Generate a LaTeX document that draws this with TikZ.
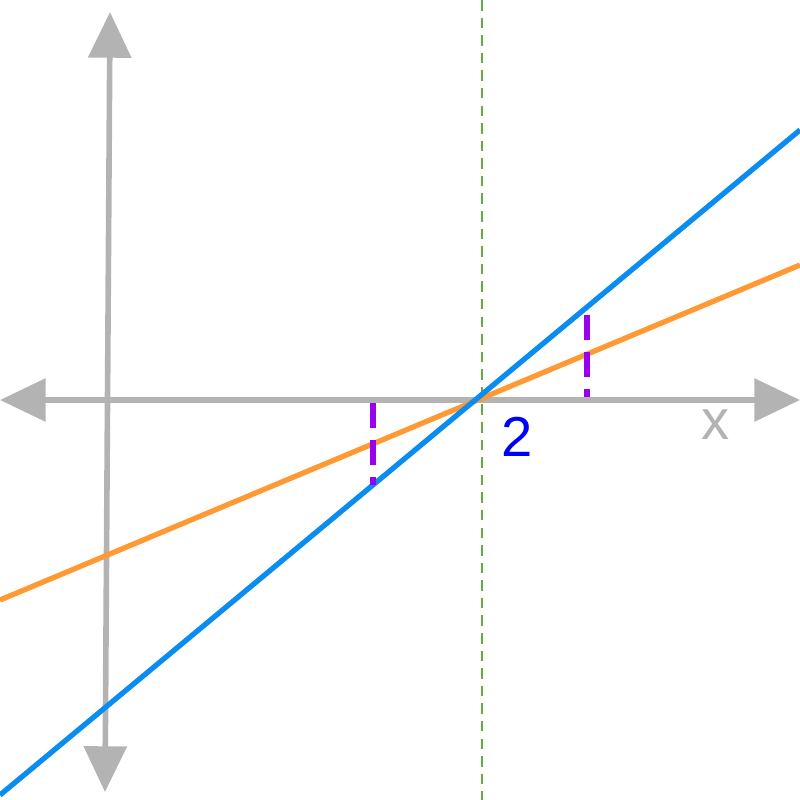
\documentclass[tikz,border=0pt]{standalone}
\usepackage{fontspec}
\setmainfont{Liberation Sans}
\usetikzlibrary{arrows.meta}
\definecolor{axisGray}{HTML}{B3B3B3}
\definecolor{lineBlue}{HTML}{0A8CF0}
\definecolor{lineOrange}{HTML}{FF9933}
\definecolor{gapPurple}{HTML}{9900EE}
\definecolor{guideGreen}{HTML}{66AA44}
\tikzset{
    Axis/.style = {
        line width=1.6pt, color=axisGray,
        {Triangle[length=13pt,width=12pt]}-{Triangle[length=13pt,width=12pt]}
    },
    Graph/.style = {line width=1.5pt, color=#1},
    Gap/.style = {line width=1.5pt, color=gapPurple, dash pattern=on 7pt off 3.5pt},
    Guide/.style = {line width=0.8pt, color=guideGreen, dash pattern=on 3pt off 2pt}
}
\begin{document}
\begin{tikzpicture}[x=0.01cm, y=-0.01cm]
    \useasboundingbox (0,0) rectangle (800,800);
    % axes
    \coordinate (XL) at (0,400);
    \coordinate (XR) at (800,400);
    \coordinate (YT) at (110,12);
    \coordinate (YB) at (105,792);
    \draw [Axis] (XL) -- (XR);
    \draw [Axis] (YB) -- (YT);
    % guide
    \coordinate (GT) at (482,0);
    \coordinate (GB) at (482,800);
    \draw [Guide] (GT) -- (GB);
    % lines
    \coordinate (B1) at (0,795);
    \coordinate (B2) at (800,130);
    \coordinate (O1) at (0,600);
    \coordinate (O2) at (800,265);
    \draw [Graph=lineOrange] (O1) -- (O2);
    \draw [Graph=lineBlue] (B1) -- (B2);
    % gaps
    \coordinate (P1) at (373,403);
    \coordinate (P2) at (373,485);
    \coordinate (Q1) at (587,315);
    \coordinate (Q2) at (587,397);
    \draw [Gap] (P1) -- (P2);
    \draw [Gap] (Q1) -- (Q2);
    % labels
    \node [color=blue, font=\fontsize{16}{18}\selectfont] (two) at (517,437) {2};
    \node [color=axisGray, font=\fontsize{16}{18}\selectfont] (xlab) at (716,425) {x};
\end{tikzpicture}
\end{document}
